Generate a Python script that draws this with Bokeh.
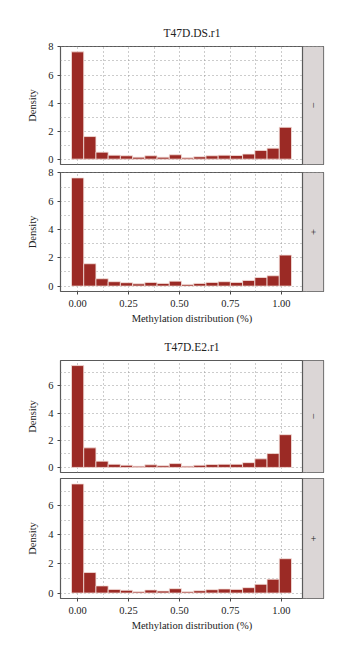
from bokeh.plotting import figure
from bokeh.layouts import column
from bokeh.models import FixedTicker, Span, Range1d
from bokeh.core.properties import value
from bokeh.embed import file_html
from bokeh.resources import INLINE
import math

# ---- data ----
bin_centers = [0.00, 0.06, 0.12, 0.18, 0.24, 0.30, 0.36, 0.42, 0.48,
               0.54, 0.60, 0.66, 0.72, 0.78, 0.84, 0.90, 0.96, 1.02]
bin_width = 0.06

ds_minus = [7.65, 1.61, 0.50, 0.28, 0.24, 0.14, 0.24, 0.14, 0.31,
            0.09, 0.17, 0.24, 0.28, 0.26, 0.36, 0.62, 0.78, 2.27]
ds_plus = [7.65, 1.58, 0.52, 0.31, 0.24, 0.16, 0.26, 0.19, 0.35,
           0.12, 0.19, 0.26, 0.31, 0.26, 0.40, 0.61, 0.73, 2.19]
e2_minus = [7.50, 1.44, 0.46, 0.23, 0.16, 0.09, 0.19, 0.12, 0.28,
            0.09, 0.16, 0.21, 0.23, 0.23, 0.35, 0.63, 1.02, 2.41]
e2_plus = [7.50, 1.41, 0.49, 0.25, 0.19, 0.09, 0.21, 0.14, 0.30,
           0.09, 0.16, 0.23, 0.28, 0.25, 0.37, 0.60, 0.95, 2.36]

group_titles = ["T47D.DS.r1", "T47D.E2.r1"]
strip_labels = ["\u2212", "+"]
x_ticks = [0.0, 0.25, 0.5, 0.75, 1.0]
x_tick_labels = {0.0: "0.00", 0.25: "0.25", 0.5: "0.50", 0.75: "0.75", 1.0: "1.00"}
x_minor = [0.125, 0.375, 0.625, 0.875, 1.125]
x_label = "Methylation distribution (%)"
y_label = "Density"

FONT = "Liberation Serif"
BAR_FILL = "#9b2a25"
BAR_LINE = "#f4e1dc"
BORDER = "#5a5a5a"
STRIP_FILL = "#dbd6d6"
GRID = "#999999"

PANEL_W = 242
STRIP_W = 21
LEFT = 60


def make_panel(vals, group_max, title, strip, show_x, top_b, frame_h, bottom_b):
    lo = min(bin_centers) - bin_width / 2
    hi = max(bin_centers) + bin_width / 2
    pad = 0.05 * (hi - lo)
    xs, xe_panel = lo - pad, hi + pad
    xe = xe_panel + STRIP_W / PANEL_W * (xe_panel - xs)
    ys, ye = -0.05 * group_max, 1.05 * group_max

    kw = dict(width=355, height=top_b + frame_h + bottom_b,
              output_backend="svg", toolbar_location=None,
              x_range=Range1d(xs, xe), y_range=Range1d(ys, ye),
              min_border_left=LEFT, min_border_right=355 - LEFT - PANEL_W - STRIP_W,
              min_border_top=top_b, min_border_bottom=bottom_b)
    if title is None:
        kw["title"] = None
    p = figure(**kw)
    if title is not None:
        p.title.text = title
        p.title.align = "center"
        p.title.text_font = FONT
        p.title.text_font_size = "11.5px"
        p.title.text_font_style = "normal"
        p.title.text_color = "#222222"
        p.title.standoff = 16

    p.background_fill_color = "white"
    p.border_fill_color = "white"
    p.outline_line_color = BORDER
    p.outline_line_width = 1.2

    yt = [t for t in [0, 2, 4, 6, 8] if t <= ye]
    ym = [t for t in [1, 3, 5, 7] if t <= ye]

    # grid
    p.xgrid.ticker = FixedTicker(ticks=x_ticks, minor_ticks=x_minor)
    p.ygrid.ticker = FixedTicker(ticks=yt, minor_ticks=ym)
    for g in (p.xgrid, p.ygrid):
        g.grid_line_color = GRID
        g.grid_line_dash = "1 3"
        g.grid_line_width = 1
        g.minor_grid_line_color = GRID
        g.minor_grid_line_dash = "1 3"
        g.minor_grid_line_width = 1

    p.vbar(x=bin_centers, top=vals, bottom=0, width=bin_width,
           fill_color=BAR_FILL, line_color=BAR_LINE, line_width=0.8)

    # strip
    p.quad(left=[xe_panel], right=[xe], bottom=[ys], top=[ye],
           fill_color=STRIP_FILL, line_color=None)
    p.add_layout(Span(location=xe_panel, dimension="height",
                      line_color=BORDER, line_width=1.2))
    p.text(x=[(xe_panel + xe) / 2], y=[(ys + ye) / 2], text=[strip],
           angle=-math.pi / 2, text_align="center", text_baseline="middle",
           text_font=value(FONT), text_font_size="10.5px", text_color="#222222")

    # axes
    ya = p.yaxis[0]
    ya.ticker = FixedTicker(ticks=yt)
    ya.axis_line_color = None
    ya.major_tick_in = 0
    ya.major_tick_out = 3
    ya.major_tick_line_color = "#444444"
    ya.minor_tick_line_color = None
    ya.major_label_text_font = FONT
    ya.major_label_text_font_size = "10.5px"
    ya.major_label_text_color = "#222222"
    ya.major_label_standoff = 4
    ya.axis_label = y_label
    ya.axis_label_text_font = FONT
    ya.axis_label_text_font_size = "10.5px"
    ya.axis_label_text_font_style = "normal"
    ya.axis_label_text_color = "#222222"
    ya.axis_label_standoff = 7

    xa = p.xaxis[0]
    if show_x:
        xa.ticker = FixedTicker(ticks=x_ticks)
        xa.major_label_overrides = x_tick_labels
        xa.axis_line_color = None
        xa.major_tick_in = 0
        xa.major_tick_out = 3
        xa.major_tick_line_color = "#444444"
        xa.minor_tick_line_color = None
        xa.major_label_text_font = FONT
        xa.major_label_text_font_size = "10.5px"
        xa.major_label_text_color = "#222222"
        xa.major_label_standoff = 5
        xa.axis_label = x_label
        xa.axis_label_text_font = FONT
        xa.axis_label_text_font_size = "10.5px"
        xa.axis_label_text_font_style = "normal"
        xa.axis_label_text_color = "#222222"
        xa.axis_label_standoff = 3
    else:
        xa.visible = False
    return p


ds_max = max(max(ds_minus), max(ds_plus))
e2_max = max(max(e2_minus), max(e2_plus))

p1 = make_panel(ds_minus, ds_max, group_titles[0], strip_labels[0], False, 46, 118, 4)
p2 = make_panel(ds_plus, ds_max, None, strip_labels[1], True, 4, 119, 39)
p3 = make_panel(e2_minus, e2_max, group_titles[1], strip_labels[0], False, 22, 120, 3)
p4 = make_panel(e2_plus, e2_max, None, strip_labels[1], True, 3, 120, 62)

layout = column(p1, p2, p3, p4, spacing=0)
open("out.html", "w").write(file_html(layout, INLINE))
